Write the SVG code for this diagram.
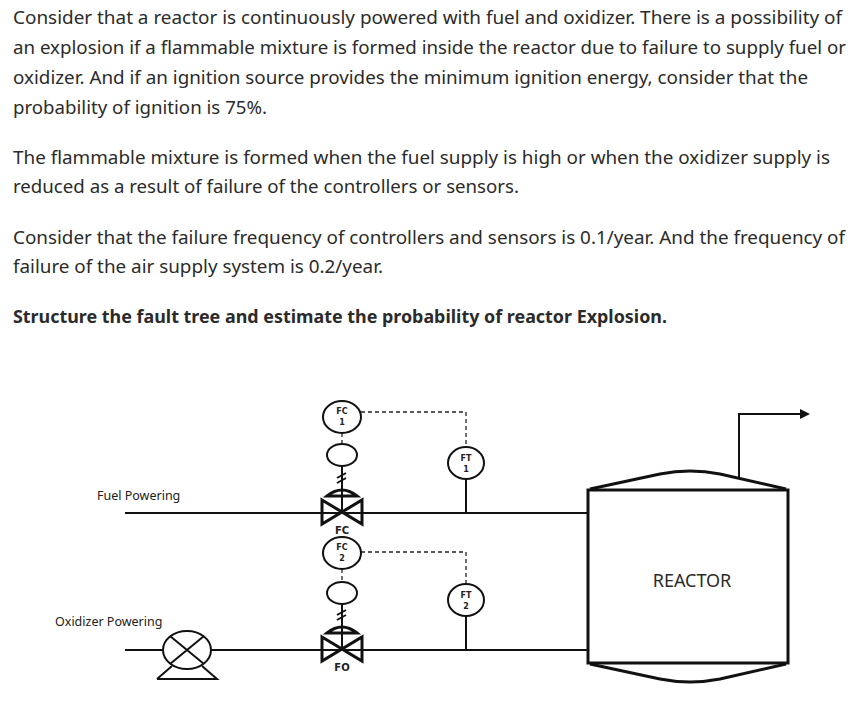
<svg xmlns="http://www.w3.org/2000/svg" width="858" height="713" viewBox="0 0 858 713">
<style>
.p{font-family:"Noto Sans","Open Sans",sans-serif;font-size:18px;fill:#2b2b2b}
.b{font-weight:bold}
.k{fill:none;stroke:#111;stroke-width:2}
.t{fill:none;stroke:#111;stroke-width:3}
.d{fill:none;stroke:#222;stroke-width:1.3;stroke-dasharray:4 3}
.i{font-family:"DejaVu Sans",sans-serif;font-size:8px;font-weight:bold;fill:#222;text-anchor:middle}
.l{font-family:"Noto Sans","Open Sans",sans-serif;font-size:12.5px;fill:#222}
.v{font-family:"DejaVu Sans",sans-serif;font-size:10px;font-weight:bold;fill:#222;text-anchor:middle}
</style>
<defs><marker id="ar" markerWidth="10" markerHeight="10" refX="8" refY="5" orient="auto" markerUnits="userSpaceOnUse"><path d="M0,0 L10,5 L0,10 z" fill="#111"/></marker></defs>
<rect width="858" height="713" fill="#fff"/>
<g id="text">
<text class="p" x="13" y="24" textLength="829" lengthAdjust="spacingAndGlyphs">Consider that a reactor is continuously powered with fuel and oxidizer. There is a possibility of</text>
<text class="p" x="13" y="54" textLength="833" lengthAdjust="spacingAndGlyphs">an explosion if a flammable mixture is formed inside the reactor due to failure to supply fuel or</text>
<text class="p" x="13" y="84" textLength="795" lengthAdjust="spacingAndGlyphs">oxidizer. And if an ignition source provides the minimum ignition energy, consider that the</text>
<text class="p" x="13" y="114" textLength="254" lengthAdjust="spacingAndGlyphs">probability of ignition is 75%.</text>
<text class="p" x="13" y="164" textLength="817" lengthAdjust="spacingAndGlyphs">The flammable mixture is formed when the fuel supply is high or when the oxidizer supply is</text>
<text class="p" x="13" y="193" textLength="506" lengthAdjust="spacingAndGlyphs">reduced as a result of failure of the controllers or sensors.</text>
<text class="p" x="13" y="244" textLength="832" lengthAdjust="spacingAndGlyphs">Consider that the failure frequency of controllers and sensors is 0.1/year. And the frequency of</text>
<text class="p" x="13" y="273" textLength="370" lengthAdjust="spacingAndGlyphs">failure of the air supply system is 0.2/year.</text>
<text class="p b" x="13" y="323" textLength="654" lengthAdjust="spacingAndGlyphs">Structure the fault tree and estimate the probability of reactor Explosion.</text>
</g>
<g id="connectors">
<line class="k" x1="125" y1="513" x2="588" y2="513"/>
<line class="k" x1="125" y1="650" x2="588" y2="650"/>
<line class="k" x1="466" y1="479" x2="466" y2="513"/>
<line class="k" x1="466" y1="616" x2="466" y2="650"/>
<path class="d" d="M361,412 H466 V447"/>
<path class="d" d="M361,552 H466 V584"/>
<line class="d" x1="342" y1="433" x2="342" y2="444"/>
<line class="d" x1="342" y1="569" x2="342" y2="582"/>
<path class="k" d="M739,477 V414 H808" marker-end="url(#ar)"/>
</g>
<g id="fc1"><ellipse class="k" cx="342" cy="417" rx="19" ry="16"/><text class="i" x="342" y="414">FC</text><text class="i" x="342" y="425">1</text></g>
<g id="valve1">
<ellipse class="k" cx="342" cy="455" rx="15" ry="11"/>
<line class="k" x1="342" y1="466" x2="342" y2="512"/>
<path class="k" d="M337,478 l9,-5 M337,483 l9,-5"/>
<path class="t" d="M327,496 Q342,484 357,496 Z"/>
<path class="t" d="M322,500 L362,524 L362,500 L322,524 Z"/>
<text class="v" x="342" y="534">FC</text>
</g>
<g id="ft1"><ellipse class="k" cx="466" cy="463" rx="18" ry="16"/><text class="i" x="466" y="461">FT</text><text class="i" x="466" y="472">1</text></g>
<g id="fc2"><ellipse class="k" cx="342" cy="553" rx="19" ry="16"/><text class="i" x="342" y="550">FC</text><text class="i" x="342" y="561">2</text></g>
<g id="valve2">
<ellipse class="k" cx="342" cy="593" rx="15" ry="11"/>
<line class="k" x1="342" y1="604" x2="342" y2="648"/>
<path class="k" d="M337,615 l9,-5 M337,620 l9,-5"/>
<path class="t" d="M327,633 Q342,621 357,633 Z"/>
<path class="t" d="M322,637 L362,661 L362,637 L322,661 Z"/>
<text class="v" x="342" y="671">FO</text>
</g>
<g id="ft2"><ellipse class="k" cx="466" cy="600" rx="18" ry="16"/><text class="i" x="466" y="598">FT</text><text class="i" x="466" y="609">2</text></g>
<g id="pump">
<ellipse cx="187" cy="650" rx="24" ry="19" fill="#fff" stroke="#111" stroke-width="2"/>
<path class="k" d="M170,636 L204,664 M204,636 L170,664"/>
<path class="k" d="M157,679 L217,679 L202,666 M157,679 L172,666"/>
</g>
<g id="reactor">
<rect x="588" y="490" width="200" height="173" class="t"/>
<path class="t" d="M590,489 L660,474 Q690,468 720,474 L786,489"/>
<path class="t" d="M590,664 L660,679 Q690,685 720,679 L786,664"/>
<text class="p" x="692" y="587" text-anchor="middle" font-size="18">REACTOR</text>
</g>
<text class="l" x="97" y="500">Fuel Powering</text>
<text class="l" x="55" y="626">Oxidizer Powering</text>
</svg>
